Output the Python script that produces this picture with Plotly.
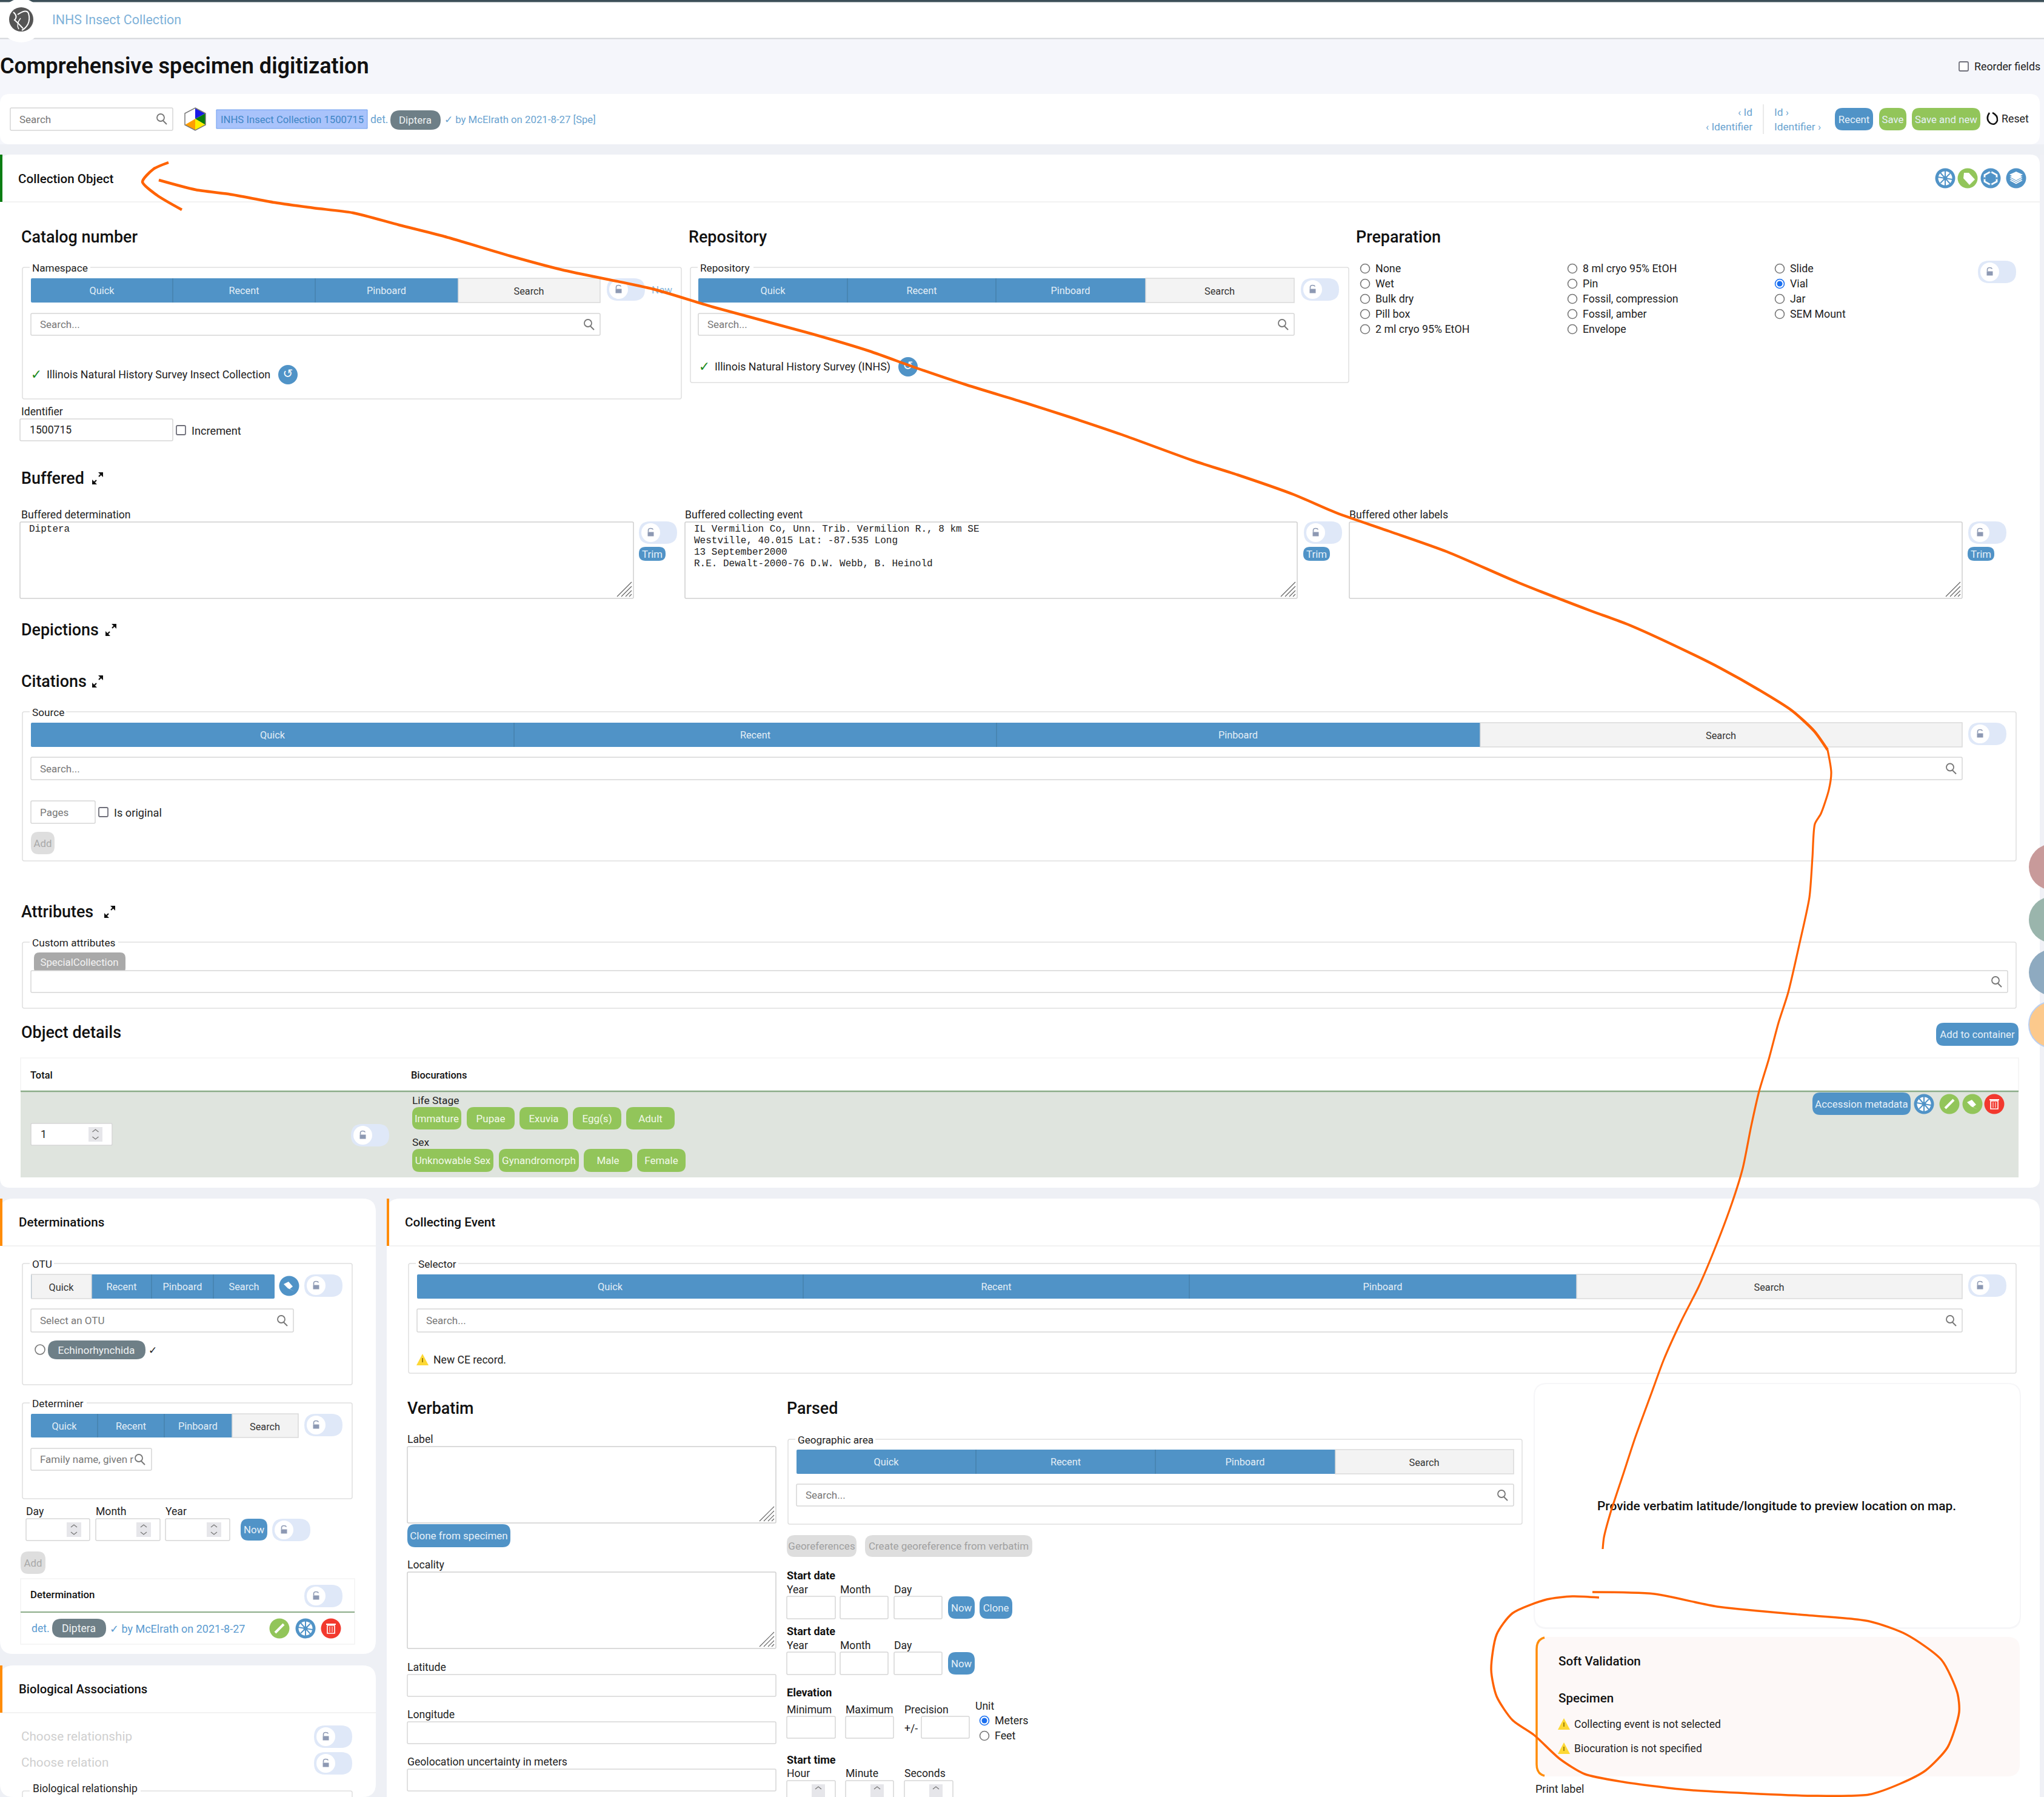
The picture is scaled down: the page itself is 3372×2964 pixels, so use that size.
import plotly.graph_objects as go

# ---- texts ----
TAB_LABELS = ["Quick", "Recent", "Pinboard", "Search"]
PREP_COL_1 = ["None", "Wet", "Bulk dry", "Pill box", "2 ml cryo 95% EtOH"]
PREP_COL_2 = ["8 ml cryo 95% EtOH", "Pin", "Fossil, compression", "Fossil, amber", "Envelope"]
PREP_COL_3 = ["Slide", "Vial", "Jar", "SEM Mount"]
LIFE_STAGE = ["Immature", "Pupae", "Exuvia", "Egg(s)", "Adult"]
SEX_LABELS = ["Unknowable Sex", "Gynandromorph", "Male", "Female"]
BUFFERED_CE = [
    "IL Vermilion Co, Unn. Trib. Vermilion R., 8 km SE",
    "Westville, 40.015 Lat: -87.535 Long",
    "13 September2000",
    "R.E. Dewalt-2000-76 D.W. Webb, B. Heinold",
]
DATE_PARTS = ["Year", "Month", "Day"]
TIME_PARTS = ["Hour", "Minute", "Seconds"]
ELEVATION_PARTS = ["Minimum", "Maximum", "Precision"]
WARNINGS = ["Collecting event is not selected", "Biocuration is not specified"]

# hand drawn orange strokes
HEAD_X = [278, 253, 235, 259, 300]
HEAD_Y = [268, 279, 300, 322, 346]
ARROW_TOP_X = [262, 323, 377, 453, 517, 582, 658, 733, 841, 927, 1078, 1175, 1337, 1434, 1509, 1595, 1690,
               1765, 1851, 1969, 2044, 2135, 2205, 2291, 2387, 2505, 2623, 2688, 2784, 2838, 2902, 2956, 2993, 3015]
ARROW_TOP_Y = [297, 313, 320, 334, 343, 351, 371, 390, 422, 445, 477, 506, 550, 579, 606, 635, 664,
               688, 717, 760, 784, 816, 846, 876, 910, 961, 1007, 1031, 1075, 1102, 1138, 1172, 1206, 1237]
ARROW_LOW_X = [3015, 3021, 3017, 3004, 2994, 2990, 2985, 2969, 2950, 2934, 2918, 2902, 2889, 2875, 2857,
               2828, 2802, 2774, 2745, 2724, 2698, 2677, 2656, 2646, 2644]
ARROW_LOW_Y = [1237, 1274, 1303, 1342, 1359, 1414, 1480, 1555, 1637, 1687, 1747, 1800, 1857, 1927, 1985,
               2062, 2123, 2178, 2242, 2299, 2370, 2434, 2498, 2536, 2555]
RING_X = [2627, 2729, 2833, 2968, 3083, 3145, 3203, 3229, 3232, 3213, 3177, 3135, 3083, 2989, 2885, 2781,
          2677, 2614, 2573, 2531, 2495, 2469, 2460, 2469, 2495, 2552, 2594, 2638]
RING_Y = [2626, 2629, 2650, 2663, 2674, 2696, 2738, 2792, 2824, 2882, 2920, 2942, 2960, 2962, 2958, 2952,
          2939, 2926, 2901, 2862, 2837, 2798, 2754, 2696, 2661, 2638, 2633, 2635]

BLUE = "#5093c7"
GREEN = "#92c55a"
RED = "#f2392e"
ORANGE = "#ff6200"
BORDER = "#d6d6d6"
FONT = "Roboto"
MONO = "Liberation Mono"
TXT = "#222222"
TEXT_NUDGE = 2

shapes = []
texts = {"middle right": [], "middle center": [], "middle left": []}


def rect(x0, y0, x1, y1, fill="white", line=None, lw=1.5, r=0):
    if r:
        p = (f"M{x0+r},{y0} L{x1-r},{y0} Q{x1},{y0} {x1},{y0+r} L{x1},{y1-r} Q{x1},{y1} {x1-r},{y1} "
             f"L{x0+r},{y1} Q{x0},{y1} {x0},{y1-r} L{x0},{y0+r} Q{x0},{y0} {x0+r},{y0} Z")
    else:
        p = f"M{x0},{y0} L{x1},{y0} L{x1},{y1} L{x0},{y1} Z"
    shapes.append(dict(type="path", path=p, fillcolor=fill, layer="below",
                       line=dict(color=line or "rgba(0,0,0,0)", width=lw if line else 0)))


def seg(x0, y0, x1, y1, color=BORDER, lw=1.5):
    shapes.append(dict(type="line", x0=x0, y0=y0, x1=x1, y1=y1, layer="below", line=dict(color=color, width=lw)))


def dot(cx, cy, r, fill="white", line=None, lw=1.5):
    shapes.append(dict(type="circle", x0=cx-r, y0=cy-r, x1=cx+r, y1=cy+r, fillcolor=fill, layer="below",
                       line=dict(color=line or "rgba(0,0,0,0)", width=lw if line else 0)))


def poly(pts, fill):
    p = "M" + " L".join(f"{a},{b}" for a, b in pts) + " Z"
    shapes.append(dict(type="path", path=p, fillcolor=fill, layer="below", line=dict(width=0)))


def curve(path, color, width):
    shapes.append(dict(type="path", path=path, layer="below", line=dict(color=color, width=width)))


def t(x, y, s, size=17.6, color=TXT, weight=400, anchor="middle right", family=FONT):
    texts[anchor].append((x, y + TEXT_NUDGE, s, size, color, weight, family))


def lens(x, y, color="#777777"):
    dot(x-2, y-2, 6, fill="rgba(0,0,0,0)", line=color, lw=1.8)
    seg(x+2, y+3, x+8, y+9, color, 2)


def toggle(x0, y0, x1=None, y1=None):
    x1 = x1 or x0 + 63
    y1 = y1 or y0 + 37
    rect(x0, y0, x1, y1, fill="#dfe8f8", r=(y1-y0)/2)
    cx = x0 + (y1-y0)/2 + 1
    cy = (y0+y1)/2
    dot(cx, cy, (y1-y0)/2 - 3)
    rect(cx-5, cy-1, cx+5, cy+6, fill="#8d99b3")
    curve(f"M{cx-4},{cy-1} L{cx-4},{cy-4} Q{cx-4},{cy-7} {cx},{cy-7} Q{cx+3},{cy-7} {cx+4},{cy-5}", "#8d99b3", 1.6)


def tabs(edges, y0, y1, grey=3):
    rect(edges[0], y0, edges[-1], y1, fill=BLUE, r=2)
    for i, lab in enumerate(TAB_LABELS):
        a, b = edges[i], edges[i+1]
        if i == grey:
            rect(a+1, y0, b, y1, fill="#f3f3f3", line="#dadada", lw=1.5)
            t((a+b)/2, (y0+y1)/2 + 1, lab, 16.3, "#333333", anchor="middle center")
        else:
            t((a+b)/2, (y0+y1)/2, lab, 16.3, "#e4eef6", anchor="middle center")
            if i + 1 != grey and i < 3:
                seg(b, y0, b, y1, "#41789f", 1)


def fieldset(x0, y0, x1, y1, label, w):
    rect(x0, y0, x1, y1, fill="white", line="#dfdfdf", lw=1.5, r=3)
    rect(x0+12, y0-3, x0+16+w, y0+4)
    t(x0+16, y0+1, label, 17.2, "#222222")


def field(x0, y0, x1, y1, hint=None, icon=False):
    rect(x0, y0, x1, y1, line=BORDER, r=2)
    if hint:
        t(x0+15, (y0+y1)/2, hint, 17, "#777777")
    if icon:
        lens(x1-18, (y0+y1)/2)


def textarea(x0, y0, x1, y1):
    rect(x0, y0, x1, y1, line="#cfcfcf", r=2)
    for d in (4, 10, 17, 24):
        seg(x1-3-d, y1-3, x1-3, y1-3-d, "#666666", 1.2)


def btn(x0, y0, x1, y1, label, fill=BLUE, color="#e6f0f8", r=13, size=16.8):
    rect(x0, y0, x1, y1, fill=fill, r=r)
    t((x0+x1)/2, (y0+y1)/2, label, size, color, anchor="middle center")


def check(x0, y0, label, size=18.2):
    rect(x0, y0, x0+15, y0+15, line="#6f6f7a", lw=1.8, r=2)
    t(x0+25, y0+8, label, size)


def radio(cx, cy, label, on=False):
    dot(cx, cy, 7.5, line="#777777" if not on else "#1a6ff0", lw=1.6)
    if on:
        dot(cx, cy, 4.5, fill="#1a6ff0")
    t(cx+17, cy, label, 17.8)


def spinner(x0, y0, x1, y1):
    rect(x0, y0, x1, y1, fill="#e6e6ea")
    m = (x0+x1)/2
    for yy, d in ((y0+8, -4), (y1-8, 4)):
        curve(f"M{m-5},{yy} L{m},{yy+d} L{m+5},{yy}", "#777777", 1.3)


def wheel(cx, cy, fill=BLUE):
    dot(cx, cy, 16.5, fill=fill)
    dot(cx, cy, 11.5)
    for dx, dy in ((0, 12), (12, 2), (8, 9), (8, -8)):
        seg(cx-dx, cy-dy, cx+dx, cy+dy, fill, 2)
    dot(cx, cy, 3.5, fill=fill)


def pencil(cx, cy):
    dot(cx, cy, 16.5, fill=GREEN)
    seg(cx-7, cy+7, cx+7, cy-7, "white", 4)


def trash(cx, cy):
    dot(cx, cy, 16.5, fill=RED)
    rect(cx-6, cy-5, cx+6, cy+8, fill="rgba(0,0,0,0)", line="white", lw=1.6)
    seg(cx-8, cy-7, cx+8, cy-7, "white", 2)
    seg(cx-2, cy-3, cx-2, cy+6, "white", 1)
    seg(cx+2, cy-3, cx+2, cy+6, "white", 1)


def pin(cx, cy, fill):
    dot(cx, cy, 16.5, fill=fill)
    poly([(cx-9, cy-3), (cx-1, cy-7), (cx+6, cy+1), (cx+1, cy+5), (cx+9, cy+9), (cx-2, cy+4)], "white")


def warn(cx, cy):
    poly([(cx, cy-10), (cx+10, cy+9), (cx-10, cy+9)], "#fdd835")
    seg(cx, cy-3, cx, cy+4, "#8a6d00", 1.6)


def expand(x, y):
    poly([(x+2, y-10), (x+10, y-10), (x+10, y-2)], "#111111")
    seg(x+9, y-9, x+3, y-3, "#111111", 2.2)
    poly([(x-8, y+2), (x-8, y+10), (x, y+10)], "#111111")
    seg(x-7, y+9, x-1, y+3, "#111111", 2.2)


def heading(x, y, s, size=26.9):
    t(x, y, s, size, "#111111", 500)


# ---- page background ----
rect(0, 238, 3372, 2964, fill="#eef0f5")
rect(0, 0, 3372, 64)
rect(0, 0, 3372, 3.5, fill="#3d5058")
seg(0, 63.5, 3372, 63.5, "#d3d5da", 2)
dot(35, 34, 36)
dot(35, 32, 20, fill="#555555")
curve("M22,20 Q30,27 24,33 Q30,38 38,47", "white", 2)
curve("M29,24 Q44,14 47,22 Q50,32 46,40 Q42,47 36,50", "white", 2)
curve("M34,30 Q26,40 31,48", "white", 1.5)
t(86, 33, "INHS Insect Collection", 21.4, "#7fb2d9")
t(0, 110, "Comprehensive specimen digitization", 36.1, "#111111", 600)
check(3232, 102, "Reorder fields", 17.8)

# record bar
rect(0, 155, 3365, 238, r=16)
field(17, 178, 285, 215, "Search")
lens(267, 196)
poly([(322, 178), (339, 187), (322, 196)], "#1a1ae6")
poly([(339, 187), (339, 206), (322, 196)], "#0a7a0a")
poly([(339, 206), (322, 215), (322, 196)], "#ffee00")
poly([(322, 215), (305, 206), (322, 196)], "#ff9e00")
curve("M322,178 L339,187 L339,206 L322,215 L305,206 L305,187 Z", "#777777", 1.5)
rect(357, 181, 606, 212, fill="#a9c3fb", line="#6d9eef", lw=1)
t(364, 197, "INHS Insect Collection 1500715", 16.7, "#3f86c6")
t(611, 197, "det.", 17.5, "#6aa3d0")
rect(644, 182, 727, 214, fill="#6e7f87", r=16)
t(685, 198, "Diptera", 17, "#eef2f3", anchor="middle center")
t(733, 197, "✓ by McElrath on 2021-8-27 [Spe]", 16.8, "#6aa3d0")
t(2891, 185, "‹ Id", 17.3, "#6aa3d0", anchor="middle left")
t(2891, 209, "‹ Identifier", 17.3, "#6aa3d0", anchor="middle left")
seg(2909, 172, 2909, 221, "#e3e3e3", 1.5)
t(2927, 185, "Id ›", 17.3, "#6aa3d0")
t(2927, 209, "Identifier ›", 17.3, "#6aa3d0")
btn(3027, 178, 3090, 215, "Recent")
btn(3100, 178, 3145, 215, "Save", GREEN)
btn(3154, 178, 3267, 215, "Save and new", GREEN)
curve("M3282,186 Q3275,196 3283,203 Q3291,208 3295,199 Q3296,190 3287,186", "#111111", 2.5)
t(3302, 196, "Reset", 17.8)

# ---- collection object card ----
rect(0, 255, 3365, 1959, r=16)
rect(0, 255, 4, 333, fill="#0b7d12")
seg(4, 333, 3365, 333, "#eeeeee", 1.5)
t(30, 295, "Collection Object", 20.6, "#111111", 500)
wheel(3209, 294)
dot(3246, 294, 16.5, fill=GREEN)
poly([(3240, 285), (3248, 285), (3258, 296), (3249, 305), (3239, 294)], "white")
dot(3284, 294, 16.5, fill=BLUE)
curve("M3284,283 L3294,288.5 L3294,299.5 L3284,305 L3274,299.5 L3274,288.5 Z", "white", 2.8)
for sx, sy in ((3284, 283), (3294, 294), (3284, 305), (3274, 294)):
    dot(sx, sy, 1.8, fill=BLUE)
dot(3326, 294, 16.5, fill=BLUE)
for dy in (6, 3, 0):
    poly([(3326, 287+dy), (3337, 292+dy), (3326, 298+dy), (3315, 292+dy)], "white")
    curve(f"M3315,{292+dy} L3326,{298+dy} L3337,{292+dy}", BLUE, 1)
poly([(3326, 283), (3337, 288), (3326, 294), (3315, 288)], "white")

heading(35, 391, "Catalog number")
heading(1136, 391, "Repository")
heading(2237, 391, "Preparation")

fieldset(37, 441, 1124, 658, "Namespace", 96)
tabs([51, 285, 520, 755, 990], 459, 499)
toggle(1001, 459)
t(1075, 478, "New", 17, "#8ab8dc")
field(51, 517, 990, 553, "Search...", True)
t(60, 617, "✓", 22, "#1b8a1b", 700, anchor="middle center", family="DejaVu Sans")
t(77, 618, "Illinois Natural History Survey Insect Collection", 17.85)
dot(475, 618, 16, fill=BLUE)
t(475, 616, "↺", 20, "white", anchor="middle center", family="DejaVu Sans")
t(35, 679, "Identifier", 17.6)
field(33, 691, 285, 727)
t(49, 709, "1500715", 17.6)
check(291, 702, "Increment")

fieldset(1139, 441, 2225, 631, "Repository", 88)
tabs([1152, 1398, 1643, 1889, 2135], 459, 499)
toggle(2146, 459)
field(1152, 517, 2135, 553, "Search...", True)
t(1162, 604, "✓", 22, "#1b8a1b", 700, anchor="middle center", family="DejaVu Sans")
t(1179, 605, "Illinois Natural History Survey (INHS)", 17.85)
dot(1498, 605, 16, fill=BLUE)
t(1498, 603, "↺", 20, "white", anchor="middle center", family="DejaVu Sans")

PREP_Y = [443, 468, 493, 518, 543]
for i, lab in enumerate(PREP_COL_1):
    radio(2252, PREP_Y[i], lab)
for i, lab in enumerate(PREP_COL_2):
    radio(2594, PREP_Y[i], lab)
for i, lab in enumerate(PREP_COL_3):
    radio(2936, PREP_Y[i], lab, on=lab == "Vial")
toggle(3263, 430)

heading(35, 789, "Buffered")
expand(160, 789)
t(35, 849, "Buffered determination", 17.6)
textarea(33, 861, 1045, 987)
t(48, 871, "Diptera", 16, "#222222", family=MONO)
toggle(1054, 860)
btn(1054, 902, 1098, 925, "Trim", r=11)
t(1130, 849, "Buffered collecting event", 17.6)
textarea(1130, 861, 2140, 987)
for i, line in enumerate(BUFFERED_CE):
    t(1145, 871 + i*19, line, 16, "#222222", family=MONO)
toggle(2151, 860)
btn(2150, 902, 2194, 925, "Trim", r=11)
t(2226, 849, "Buffered other labels", 17.6)
textarea(2226, 861, 3237, 987)
toggle(3247, 860)
btn(3246, 902, 3290, 925, "Trim", r=11)

heading(35, 1039, "Depictions")
expand(182, 1039)
heading(35, 1124, "Citations")
expand(160, 1124)
fieldset(37, 1174, 3326, 1420, "Source", 56)
tabs([51, 848, 1644, 2441, 3237], 1192, 1232)
toggle(3247, 1192)
field(51, 1249, 3237, 1286, "Search...", True)
field(51, 1321, 157, 1358, "Pages")
check(163, 1332, "Is original")
btn(51, 1372, 90, 1409, "Add", "#dedede", "#a8a8a8")

heading(35, 1504, "Attributes")
expand(180, 1504)
fieldset(37, 1554, 3326, 1663, "Custom attributes", 142)
rect(56, 1571, 207, 1606, fill="#a9a9a9", r=9)
t(131, 1587, "SpecialCollection", 16.8, "#f3f3f3", anchor="middle center")
field(51, 1601, 3312, 1637, None, True)

heading(35, 1703, "Object details")
btn(3194, 1687, 3330, 1725, "Add to container")
rect(34, 1745, 3330, 1800, line="#f3f3f3")
t(50, 1773, "Total", 16.4, "#111111", 500)
t(678, 1773, "Biocurations", 16.4, "#111111", 500)
rect(34, 1801, 3330, 1942, fill="#dfe4de")
seg(34, 1800, 3330, 1800, "#8aab87", 2.5)
t(680, 1815, "Life Stage", 17.4)
LIFE_EDGES = [(680, 761), (770, 849), (857, 937), (945, 1025), (1033, 1113)]
for lab, (a, b) in zip(LIFE_STAGE, LIFE_EDGES):
    btn(a, 1826, b, 1863, lab, GREEN, "#f1f8e8", r=12, size=17)
t(680, 1884, "Sex", 17.4)
SEX_EDGES = [(680, 814), (823, 955), (963, 1043), (1051, 1131)]
for lab, (a, b) in zip(SEX_LABELS, SEX_EDGES):
    btn(a, 1895, b, 1933, lab, GREEN, "#f1f8e8", r=12, size=17)
field(51, 1853, 185, 1889)
t(67, 1871, "1", 17.6)
spinner(146, 1859, 169, 1883)
toggle(579, 1854)
btn(2990, 1802, 3152, 1839, "Accession metadata")
wheel(3174, 1821)
pencil(3216, 1821)
pin(3254, 1821, GREEN)
trash(3290, 1821)

# side tabs cut off by the window edge
rect(3365, 255, 3372, 2964, fill="#f0f1f6")
dot(3385, 1430, 38, fill="#c89a9a")
dot(3385, 1517, 38, fill="#9ab5ac")
dot(3385, 1604, 38, fill="#8eaac0")
dot(3385, 1690, 38, fill="#fcc98c", line="#b9cff2", lw=2)

# ---- determinations card ----
rect(0, 1977, 620, 2728, r=22)
rect(0, 1977, 4, 2055, fill="#ff8c0a")
seg(4, 2055, 620, 2055, "#eeeeee", 1.5)
t(31, 2016, "Determinations", 20.6, "#111111", 500)
fieldset(37, 2084, 581, 2284, "OTU", 36)
tabs([51, 151, 250, 352, 453], 2102, 2142, grey=0)
pin(477, 2121, BLUE)
toggle(502, 2102)
field(51, 2159, 484, 2197, "Select an OTU", True)
dot(66, 2226, 8, line="#777777", lw=1.6)
rect(79, 2211, 240, 2242, fill="#6e7f87", r=15)
t(159, 2227, "Echinorhynchida", 17.3, "#eef2f3", anchor="middle center")
t(252, 2227, "✓", 17, "#222222", anchor="middle center", family="DejaVu Sans")
fieldset(37, 2314, 581, 2472, "Determiner", 90)
tabs([51, 161, 271, 382, 492], 2332, 2371)
toggle(502, 2332)
field(51, 2389, 250, 2425, "Family name, given r")
lens(231, 2407)
for lab, a, b, sx in zip(["Day", "Month", "Year"], [43, 158, 273], [148, 264, 379], [110, 225, 341]):
    t(a, 2493, lab, 17.6)
    field(a, 2505, b, 2541)
    spinner(sx, 2511, sx+24, 2535)
btn(397, 2505, 441, 2541, "Now")
toggle(449, 2505)
btn(34, 2559, 75, 2596, "Add", "#dedede", "#a8a8a8")
rect(34, 2604, 585, 2712, line="#f3f3f3")
t(50, 2630, "Determination", 16.8, "#111111", 500)
toggle(502, 2614)
seg(34, 2659, 585, 2659, "#8aab87", 2)
t(52, 2686, "det.", 17.6, "#5b9bd0")
rect(86, 2670, 175, 2701, fill="#6e7f87", r=15)
t(130, 2686, "Diptera", 17.6, "#eef2f3", anchor="middle center")
t(181, 2686, "✓ by McElrath on 2021-8-27", 18, "#5b9bd0")
pencil(461, 2686)
wheel(504, 2686)
trash(546, 2686)

rect(0, 2747, 620, 2964, r=22)
rect(0, 2747, 4, 2825, fill="#ff8c0a")
seg(4, 2825, 620, 2825, "#eeeeee", 1.5)
t(31, 2786, "Biological Associations", 20.3, "#111111", 500)
t(35, 2864, "Choose relationship", 20.7, "#cfcfcf")
toggle(518, 2846)
t(35, 2907, "Choose relation", 20.7, "#cfcfcf")
toggle(518, 2890)
rect(37, 2954, 581, 2990, line="#dfdfdf", r=3)
rect(49, 2944, 232, 2960)
t(54, 2950, "Biological relationship", 17.6)

# ---- collecting event card ----
rect(638, 1977, 3365, 2990, r=22)
rect(638, 1977, 642, 2055, fill="#ff8c0a")
seg(642, 2055, 3365, 2055, "#eeeeee", 1.5)
t(668, 2016, "Collecting Event", 20.7, "#111111", 500)
fieldset(674, 2084, 3326, 2265, "Selector", 66)
tabs([688, 1325, 1962, 2600, 3237], 2102, 2142)
toggle(3247, 2102)
field(688, 2159, 3237, 2197, "Search...", True)
warn(697, 2243)
t(715, 2243, "New CE record.", 17.6)

heading(672, 2323, "Verbatim")
heading(1298, 2323, "Parsed")
t(672, 2374, "Label", 17.6)
textarea(672, 2386, 1280, 2512)
btn(672, 2514, 842, 2552, "Clone from specimen", size=17)
t(672, 2581, "Locality", 17.6)
textarea(672, 2593, 1280, 2719)
t(672, 2750, "Latitude", 17.6)
field(672, 2762, 1280, 2798)
t(672, 2828, "Longitude", 17.6)
field(672, 2840, 1280, 2876)
t(672, 2906, "Geolocation uncertainty in meters", 17.6)
field(672, 2918, 1280, 2954)

fieldset(1300, 2374, 2511, 2514, "Geographic area", 128)
tabs([1314, 1610, 1906, 2202, 2497], 2391, 2431)
field(1314, 2448, 2497, 2484, "Search...", True)
btn(1298, 2532, 1413, 2568, "Georeferences", "#dedede", "#a0a0a0", size=17)
btn(1427, 2532, 1703, 2568, "Create georeference from verbatim", "#dedede", "#a0a0a0", size=17)

DATE_X = [(1298, 1378), (1386, 1465), (1475, 1554)]
for label_y, head_y, box_y in ((2622, 2598, 2633), (2714, 2690, 2725)):
    t(1298, head_y, "Start date", 18, "#111111", 700)
    for lab, (a, b) in zip(DATE_PARTS, DATE_X):
        t(a, label_y, lab, 17.6)
        field(a, box_y, b, box_y+37)
    btn(1564, box_y, 1608, box_y+37, "Now")
btn(1616, 2633, 1670, 2670, "Clone")

t(1298, 2791, "Elevation", 18, "#111111", 700)
ELEV_X = [(1298, 1378), (1395, 1474), (1520, 1599)]
for lab, lx, (a, b) in zip(ELEVATION_PARTS, [1298, 1395, 1492], ELEV_X):
    t(lx, 2820, lab, 17.6)
    field(a, 2831, b, 2867)
t(1492, 2851, "+/-", 17.6)
t(1609, 2814, "Unit", 17.6)
radio(1624, 2838, "Meters", on=True)
radio(1624, 2863, "Feet")

t(1298, 2902, "Start time", 18, "#111111", 700)
for lab, a, b, sx in zip(TIME_PARTS, [1298, 1395, 1492], [1378, 1474, 1572], [1339, 1436, 1533]):
    t(a, 2925, lab, 17.6)
    field(a, 2937, b, 2990)
    spinner(sx, 2943, sx+22, 2990)

# map and validation panels
rect(2530, 2281, 3334, 2687, fill="#f6f6f8", r=22)
rect(2532, 2283, 3332, 2684, r=20)
t(2635, 2484, "Provide verbatim latitude/longitude to preview location on map.", 20.9, "#111111", 500)
rect(2533, 2700, 3332, 2930, fill="#fdf8f7", r=20)
curve("M2548,2701 Q2535,2704 2535,2720 L2535,2910 Q2535,2926 2548,2929", "#ff8c0a", 3.5)
t(2571, 2740, "Soft Validation", 20.6, "#111111", 500)
t(2571, 2801, "Specimen", 20.5, "#111111", 500)
for lab, yy in zip(WARNINGS, [2844, 2884]):
    warn(2580, yy)
    t(2597, yy, lab, 17.5)
t(2533, 2950, "Print label", 18)

# ---- figure ----
fig = go.Figure()
for anchor, rows in texts.items():
    xs, ys, ss, sizes, colors, weights, fams = zip(*rows)
    fig.add_trace(go.Scatter(
        x=xs, y=ys, text=ss, mode="text", textposition=anchor, cliponaxis=False, hoverinfo="skip",
        textfont=dict(size=list(sizes), color=list(colors), weight=list(weights), family=list(fams)),
    ))

for xs, ys, w in ((HEAD_X, HEAD_Y, 4.5), (ARROW_TOP_X, ARROW_TOP_Y, 4.5), (ARROW_LOW_X, ARROW_LOW_Y, 3.2), (RING_X, RING_Y, 3.5)):
    fig.add_trace(go.Scatter(x=xs, y=ys, mode="lines", hoverinfo="skip",
                             line=dict(color=ORANGE, width=w, shape="spline", smoothing=0.7)))

fig.update_layout(
    width=3372, height=2964, margin=dict(l=0, r=0, t=0, b=0),
    paper_bgcolor="#f5f6fb", plot_bgcolor="rgba(0,0,0,0)",
    showlegend=False, shapes=shapes, hovermode=False,
    xaxis=dict(range=[0, 3372], visible=False, fixedrange=True),
    yaxis=dict(range=[2964, 0], visible=False, fixedrange=True),
)
fig.write_html("out.html", config=dict(displayModeBar=False),
               post_script="document.body.style.margin='0';document.body.style.overflow='hidden';")
